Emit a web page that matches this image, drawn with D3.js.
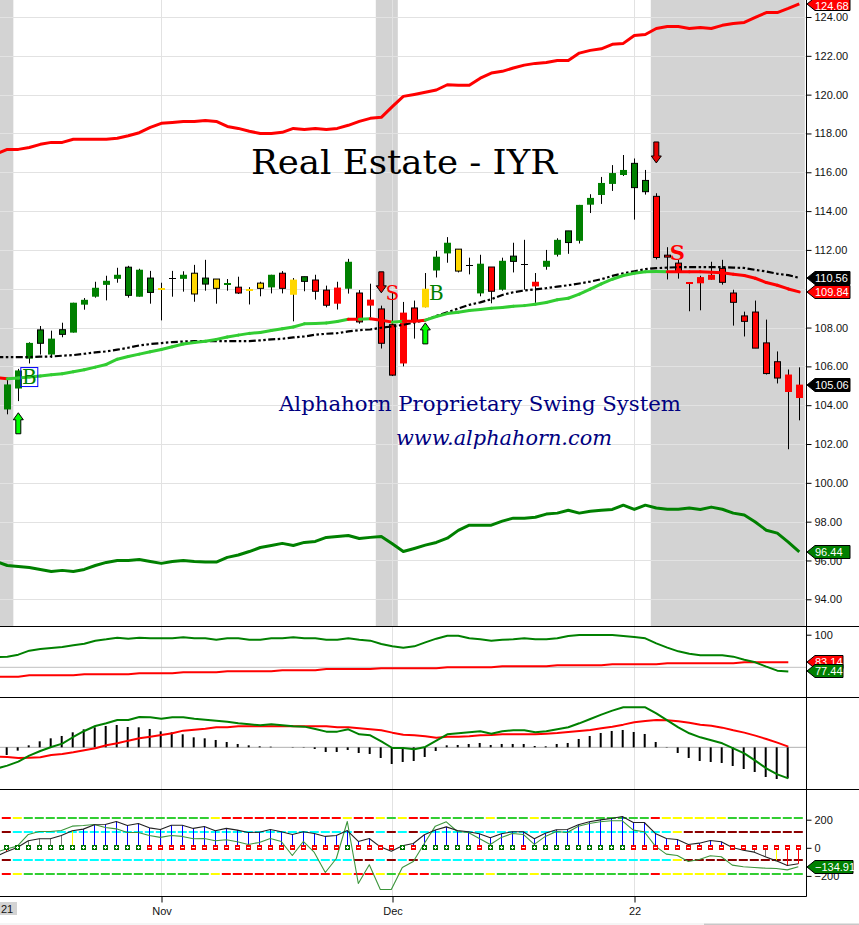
<!DOCTYPE html>
<html><head><meta charset="utf-8">
<script src="https://cdn.jsdelivr.net/npm/d3@7/dist/d3.min.js"></script>
<style>html,body{margin:0;padding:0;background:#fff}svg{display:block}text{font-family:"Liberation Sans",Arial,sans-serif}</style>
</head><body><svg id="c" width="859" height="925"></svg>
<script>
// ---- candles, index 0..72
const opens=[103.78,104.86,106.40,107.88,106.61,107.89,107.74,109.18,109.59,110.20,110.51,111.11,109.59,110.55,109.95,110.50,110.51,110.80,110.55,110.50,110.23,110.08,109.86,110.29,110.07,110.80,109.69,110.62,110.45,109.93,109.23,110.00,109.78,109.13,108.96,108.15,106.15,109.01,109.04,110.94,111.82,112.04,111.19,109.76,111.12,109.95,111.68,111.22,110.12,111.13,111.75,112.98,112.47,114.33,114.83,115.40,115.86,116.46,115.58,114.76,111.73,111.32,110.23,110.28,110.46,111.05,109.78,108.60,108.80,107.21,106.24,104.68,104.37];
const highs=[105.32,105.87,107.24,108.08,107.84,108.25,109.28,109.52,110.36,110.67,111.08,111.18,111.03,110.92,110.31,110.92,110.90,111.23,111.49,110.50,110.50,110.62,110.08,110.36,110.72,110.91,110.55,110.62,110.72,110.16,110.36,111.54,109.93,110.26,109.13,109.78,109.32,109.39,110.81,111.95,112.66,112.04,111.60,111.75,111.12,111.60,112.37,112.52,110.81,112.00,112.60,112.98,114.32,114.87,115.76,116.37,116.89,116.71,116.12,114.92,112.14,111.50,110.31,110.67,111.39,111.49,109.95,108.82,109.39,108.41,106.77,105.84,105.95];
const lows=[103.53,104.21,106.15,106.61,106.44,107.50,107.74,108.92,109.54,109.40,110.31,109.54,109.59,109.23,108.37,109.59,109.85,109.33,109.90,109.23,109.90,109.73,109.19,109.61,109.76,109.76,108.32,109.87,109.44,109.04,108.93,109.75,108.20,108.41,106.92,105.50,106.00,107.43,109.04,110.58,111.34,110.84,110.74,109.61,109.25,109.90,110.84,109.95,109.27,110.98,111.66,111.80,112.33,113.90,114.37,115.04,115.81,113.56,114.85,111.51,110.48,110.52,108.84,108.89,110.46,110.21,108.10,107.54,106.94,105.58,105.12,101.73,103.22];
const closes=[105.07,105.79,107.21,107.19,107.43,107.65,109.28,109.43,110.05,110.41,110.72,109.66,110.98,109.81,110.05,110.50,110.72,109.73,110.24,110.02,110.25,109.78,109.98,110.02,110.72,110.02,110.47,110.38,109.87,109.15,110.06,111.39,108.29,109.44,107.19,105.55,108.77,108.32,110.00,111.65,112.37,110.91,111.19,111.29,109.87,111.44,111.41,111.22,110.36,111.44,112.52,112.38,114.32,114.68,115.45,115.96,116.12,115.21,115.00,111.61,111.63,110.84,110.31,110.60,110.72,110.33,109.30,108.32,106.94,105.63,105.40,105.58,105.06];
const candleStates=["g","g","g","g","g","g","g","g","g","g","g","g","g","g","y","k","g","y","g","y","g","r","y","y","g","r","y","g","r","r","r","g","r","r","r","r","r","r","y","g","g","y","k","g","r","g","g","k","r","g","g","g","g","g","g","g","g","g","g","r","r","r","r","r","r","r","r","r","r","r","r","r","r"];
// ---- overlay lines, index -1..72
const upperBand=[116.94,117.18,117.18,117.28,117.44,117.54,117.54,117.70,117.70,117.70,117.70,117.75,117.88,118.04,118.31,118.52,118.57,118.62,118.62,118.67,118.62,118.36,118.26,118.11,118.00,118.00,118.06,118.26,118.21,118.26,118.21,118.26,118.42,118.62,118.78,118.83,119.38,119.91,120.01,120.12,120.24,120.51,120.48,120.48,120.85,121.11,121.20,121.37,121.52,121.61,121.66,121.76,121.76,122.14,122.28,122.36,122.59,122.64,123.05,123.10,123.41,123.51,123.51,123.41,123.46,123.41,123.57,123.67,123.72,123.98,124.23,124.23,124.44,124.68];
const lowerBand=[95.95,95.74,95.69,95.64,95.54,95.43,95.49,95.43,95.54,95.74,95.90,96.00,96.00,96.05,95.95,95.85,95.95,96.00,95.95,95.92,95.92,96.16,96.28,96.46,96.67,96.77,96.88,96.77,96.93,96.98,97.19,97.24,97.29,97.13,97.19,97.24,96.86,96.46,96.62,96.79,96.93,97.15,97.55,97.82,97.82,97.82,98.03,98.18,98.18,98.23,98.39,98.44,98.59,98.44,98.54,98.59,98.63,98.85,98.63,98.85,98.70,98.64,98.64,98.70,98.63,98.75,98.64,98.44,98.34,97.98,97.56,97.41,96.95,96.44];
const fastAverage=[105.43,105.36,105.40,105.45,105.50,105.57,105.62,105.72,105.83,105.96,106.10,106.37,106.51,106.63,106.75,106.87,107.01,107.15,107.23,107.30,107.39,107.51,107.61,107.70,107.75,107.85,107.94,108.03,108.19,108.21,108.24,108.31,108.43,108.43,108.45,108.38,108.28,108.33,108.33,108.38,108.57,108.72,108.79,108.88,108.93,109.00,109.03,109.10,109.13,109.20,109.29,109.43,109.51,109.72,109.98,110.25,110.49,110.68,110.80,110.87,110.89,110.87,110.87,110.87,110.87,110.85,110.82,110.75,110.68,110.54,110.32,110.18,109.99,109.84];
const slowAverage=[106.48,106.48,106.48,106.48,106.50,106.51,106.55,106.58,106.65,106.72,106.77,106.86,106.96,107.08,107.15,107.20,107.25,107.28,107.30,107.30,107.30,107.30,107.30,107.30,107.34,107.39,107.42,107.49,107.54,107.63,107.68,107.71,107.80,107.87,107.90,107.99,108.06,108.14,108.26,108.38,108.60,108.79,108.98,109.17,109.30,109.46,109.68,109.82,109.91,109.97,110.03,110.11,110.18,110.27,110.37,110.49,110.66,110.80,110.90,111.01,111.06,111.09,111.11,111.11,111.11,111.11,111.11,111.09,111.07,110.97,110.89,110.77,110.70,110.56];
const fastRedSpans=[[-1,0],[31,32],[33,35],[36,38],[60,72]];
const priceTicks=[94,96,98,100,102,104,106,108,110,112,114,116,118,120,122,124];
const priceTickLabels=[94,96,98,100,102,104,106,108,112,114,116,118,120,122,124];
// ---- signals
const upArrows=[[1,103.61],[38,108.24]];
const downArrows=[[34,109.79],[59,116.48]];
const signalLetters=[["B",2,105.45,true,"g"],["S",35,109.8,false,"r"],["B",39,109.8,false,"g"],["S",61,111.85,false,"R"]];
// ---- strength panel, index -1..71
const strengthGreen=[86.12,86.53,87.75,90.21,91.23,91.84,92.46,93.48,94.50,96.34,97.16,98.18,97.57,98.18,97.77,97.77,97.77,98.39,97.77,97.77,96.95,97.77,97.77,96.95,96.95,97.77,97.77,98.39,97.77,97.77,96.95,96.95,97.77,96.95,96.34,94.30,92.86,92.05,92.86,95.32,97.57,99.41,99.41,97.77,97.16,96.34,96.95,97.16,97.77,97.16,97.16,97.77,99.20,99.82,99.82,99.82,99.82,99.20,98.59,97.77,94.71,92.05,89.80,88.37,87.34,87.34,87.34,86.53,84.68,83.05,80.39,77.94,77.44];
const strengthRed=[74.26,74.26,74.26,75.07,75.07,75.07,75.07,75.07,75.69,75.69,75.69,75.69,75.69,76.30,76.30,76.30,76.30,76.91,76.91,76.91,76.91,77.53,77.53,77.53,77.53,77.53,78.14,78.14,78.14,78.14,78.96,78.96,78.96,78.96,78.96,79.37,79.37,79.37,79.37,79.37,79.37,79.98,79.98,79.98,79.98,79.98,80.59,80.59,80.59,80.59,80.59,81.21,81.21,81.21,81.21,81.21,81.82,81.82,81.82,81.82,81.82,82.44,82.44,82.44,82.44,82.44,82.44,82.44,83.05,83.05,83.05,83.05,83.14];
// ---- momentum panel
const momentumBars=[-0.23,-0.10,0.06,0.18,0.27,0.34,0.45,0.54,0.60,0.64,0.67,0.61,0.60,0.55,0.48,0.45,0.39,0.30,0.27,0.22,0.16,0.10,0.06,0.03,0.02,0,0.01,0.01,-0.05,-0.14,-0.14,-0.08,-0.17,-0.20,-0.32,-0.50,-0.44,-0.41,-0.29,-0.11,0.06,0.07,0.10,0.13,0.07,0.10,0.10,0.10,0.04,0.03,0.10,0.13,0.25,0.34,0.43,0.49,0.52,0.46,0.40,0.16,0.01,-0.17,-0.32,-0.41,-0.44,-0.47,-0.56,-0.65,-0.74,-0.89,-0.95,-0.93];
const momentumGreen=[-0.64,-0.55,-0.43,-0.25,-0.11,0.01,0.11,0.31,0.49,0.64,0.72,0.82,0.82,0.91,0.90,0.86,0.90,0.90,0.86,0.83,0.80,0.77,0.72,0.69,0.66,0.69,0.66,0.63,0.62,0.55,0.47,0.47,0.54,0.39,0.36,0.18,-0.02,-0.02,-0.06,0.01,0.20,0.39,0.42,0.45,0.48,0.41,0.48,0.51,0.51,0.45,0.48,0.54,0.60,0.72,0.85,0.98,1.10,1.20,1.20,1.20,1.02,0.81,0.60,0.42,0.30,0.21,0.12,-0.03,-0.18,-0.40,-0.63,-0.81,-0.93];
const momentumRed=[-0.28,-0.29,-0.32,-0.31,-0.30,-0.23,-0.20,-0.15,-0.09,-0.03,0.06,0.12,0.20,0.27,0.32,0.37,0.42,0.50,0.53,0.56,0.60,0.60,0.63,0.63,0.63,0.63,0.63,0.63,0.63,0.63,0.63,0.60,0.60,0.57,0.54,0.51,0.44,0.38,0.36,0.33,0.29,0.32,0.32,0.33,0.36,0.37,0.39,0.39,0.39,0.39,0.41,0.43,0.46,0.49,0.52,0.57,0.62,0.68,0.75,0.79,0.82,0.81,0.78,0.74,0.68,0.65,0.59,0.51,0.44,0.35,0.25,0.14,0.02];
// ---- oscillator panel
const oscBlack=[-64,-28,2,50,64,64,88,121,133,164,166,187,159,173,142,130,161,161,138,152,121,138,126,109,111,130,114,95,114,102,81,88,123,45,66,7,-24,14,31,93,126,149,123,114,100,71,100,114,114,64,104,128,130,164,185,199,209,223,180,180,102,66,59,24,33,52,43,2,-17,-31,-64,-93,-126,-114];
const oscGreen=[-33,-9,12,95,116,116,123,154,159,166,145,135,109,109,88,74,88,81,64,66,50,57,43,24,38,66,45,-55,45,-33,-176,-76,187,-254,-121,-297,-297,-140,-97,31,154,185,116,109,66,24,74,102,95,24,81,116,109,154,173,185,192,192,126,114,12,-45,-55,-97,-83,-57,-64,-123,-135,-140,-145,-147,-157,-134.91];
const stemStates=["r","n","k","k","k","k","y","b","b","b","b","b","b","b","b","b","b","b","b","b","b","b","b","b","b","b","b","b","b","b","b","b","b","b","n","n","n","b","b","b","b","b","b","b","b","b","b","b","b","b","b","b","b","b","b","b","b","b","b","b","b","b","b","b","b","b","b","k","k","k","y","r","r"];
const markerStates=["+","+","+","+","+","+","+","+","+","+","+","+","+","-","-","-","-","-","-","-","-","-","-","-","-","-","-","-","-","-","-","+","-","-","-","-","+","-","+","+","+","+","+","-","+","+","+","-","+","+","+","+","+","+","+","+","+","-","-","-","-","-","-","-","-","-","-","-","-","-","-","-","-"];
const outerLevels=[211,-187];
const innerLevels=[111,-88];
const outerStates=["r","y","g","g","g","g","g","g","g","g","g","g","g","g","g","g","g","g","g","y","r","r","r","r","r","r","r","r","r","r","r","y","r","r","y","g","y","r","r","g","g","g","g","g","y","g","g","g","y","g","g","g","g","g","g","g","g","g","g","r","y","y","y","y","y","y","g","g","g","g","g","g","g"];
const innerStates=["d","c","c","c","c","c","c","c","c","c","c","c","c","c","c","c","c","c","c","c","c","c","c","c","c","c","c","c","c","c","c","c","d","d","c","d","c","d","c","c","c","c","c","c","c","c","c","c","c","c","c","c","c","c","c","c","c","c","c","c","c","y","d","d","d","d","d","d","d","d","d","d","d"];
const strengthTicks=[100];
const oscTicks=[200,0,-200];
const dateTicks=[[14,"Nov"],[35,"Dec"],[57,"22"]];
const shadedBars=[[-1.2,0.55],[33.5,35.5],[58.5,72.5]];
const priceTags=[[124.68,"r"],[110.56,"k"],[109.84,"r"],[105.06,"k"],[96.44,"g"]];

const svg=d3.select("#c");
const axisX=806, P={main:626,s:697.3,m:789,o:896.3};
const x=d3.scaleLinear().domain([0,72]).range([7.3,799.3]);
const y=d3.scaleLinear().domain([94,124]).range([599.3,17]);
const yS=d3.scaleLinear().domain([80,100]).range([667.3,634.7]);
const yM=d3.scaleLinear().domain([-1.25,1.5]).range([789,697.3]);
const yO=d3.scaleLinear().domain([-200,200]).range([875.9,819.7]);
const col={r:"#ff0000",g:"#008000",y:"#ffd700",k:"#000000"};
const lineFrom=(ys)=>d3.line().x((d,k)=>x(k-1)).y(d=>ys(d));

// shaded sessions
svg.append("g").selectAll("rect").data(shadedBars).join("rect")
 .attr("x",d=>Math.max(0,x(d[0]))).attr("y",0)
 .attr("width",d=>x(d[1])-Math.max(0,x(d[0]))).attr("height",P.main).attr("fill","#d3d3d3");

// grid
const gridG=svg.append("g").attr("stroke","#e2e2e2").attr("stroke-width",1);
gridG.selectAll("line.h").data(priceTicks).join("line").attr("class","h")
 .attr("x1",0).attr("x2",axisX).attr("y1",d=>Math.round(y(d))+.5).attr("y2",d=>Math.round(y(d))+.5);
gridG.selectAll("line.v").data(dateTicks).join("line").attr("class","v")
 .attr("x1",d=>Math.floor(x(d[0]))+.5).attr("x2",d=>Math.floor(x(d[0]))+.5).attr("y1",0).attr("y2",P.o);

// candles
const cg=svg.append("g");
opens.forEach((o,i)=>{
  const c=closes[i], cx=Math.floor(x(i))+.5, st=candleStates[i], down=c<o;
  cg.append("line").attr("x1",cx).attr("x2",cx).attr("y1",y(highs[i])).attr("y2",y(lows[i])).attr("stroke","#000").attr("stroke-width",1);
  const t=y(Math.max(o,c)), b=y(Math.min(o,c));
  if(st==="k"||(b-t<3&&!down)){
    cg.append("rect").attr("x",cx-3.5).attr("width",7).attr("y",Math.round((t+b)/2)-1).attr("height",st==="k"?1:2).attr("fill",col[st]);
  } else if(down){
    cg.append("rect").attr("x",cx-3).attr("width",6).attr("y",t).attr("height",Math.max(b-t,1)).attr("fill",col[st]).attr("stroke","#000");
  } else {
    cg.append("rect").attr("x",cx-3.5).attr("width",7).attr("y",t).attr("height",b-t).attr("fill",col[st]);
  }
});

// overlays
const path=(g,data,gen,stroke,w,dash)=>g.append("path").attr("d",gen(data)).attr("fill","none").attr("stroke",stroke).attr("stroke-width",w).attr("stroke-linejoin","round").attr("stroke-dasharray",dash||null);
const ov=svg.append("g");
path(ov,upperBand,lineFrom(y),"#ff0000",3);
path(ov,lowerBand,lineFrom(y),"#008000",3);
path(ov,slowAverage,lineFrom(y),"#000",2.2,"7,2.5,2.5,2.5,2.5,2.5");
fastAverage.slice(1).forEach((v,k)=>{
  const inRed=fastRedSpans.some(s=>k-1>=s[0]&&k<=s[1]);
  ov.append("line").attr("x1",x(k-1)).attr("x2",x(k)).attr("y1",y(fastAverage[k])).attr("y2",y(v))
   .attr("stroke",inRed?"#ff0000":"#32cd32").attr("stroke-width",3).attr("stroke-linecap","round");
});

// title texts
svg.append("text").text("Real Estate - IYR").attr("x",251).attr("y",174).attr("textLength",306).attr("lengthAdjust","spacingAndGlyphs")
 .style("font-family","'DejaVu Serif',serif").style("font-size","33px").attr("fill","#000");
svg.append("text").text("Alphahorn Proprietary Swing System").attr("x",279).attr("y",411).attr("textLength",402).attr("lengthAdjust","spacingAndGlyphs")
 .style("font-family","'DejaVu Serif',serif").style("font-size","20.5px").attr("fill","#000080");
svg.append("text").text("www.alphahorn.com").attr("x",396).attr("y",445).attr("textLength",216).attr("lengthAdjust","spacingAndGlyphs")
 .style("font-family","'DejaVu Serif',serif").style("font-style","italic").style("font-size","21px").attr("fill","#000080");

// arrows
upArrows.forEach(d=>{
  const cx=x(d[0]), tip=y(d[1]);
  svg.append("path").attr("d",d3.line()([[0,0],[5,7],[2.5,7],[2.5,21],[-2.5,21],[-2.5,7],[-5,7]].map(p=>[cx+p[0],tip+p[1]]))+"Z").attr("fill","#00ff00").attr("stroke","#000");
});
downArrows.forEach(d=>{
  const cx=x(d[0]), tip=y(d[1]);
  svg.append("path").attr("d",d3.line()([[0,0],[5,-7],[2.5,-7],[2.5,-21],[-2.5,-21],[-2.5,-7],[-5,-7]].map(p=>[cx+p[0],tip+p[1]]))+"Z").attr("fill","#e80000").attr("stroke","#000");
});
signalLetters.forEach(([t,i,p,box,c])=>{
  const cx=x(i)+(c==="R"?-1:0), yy=y(p);
  svg.append("text").text(t).attr("x",cx).attr("y",yy+7).attr("text-anchor","middle")
   .style("font-family","'DejaVu Serif',serif").style("font-size",c==="R"?"21px":"20px").style("font-weight",c==="R"?"bold":"normal").attr("fill",c==="g"?"#008000":"#ff0000");
  if(box) svg.append("rect").attr("x",cx-8.5).attr("y",yy-9.5).attr("width",17).attr("height",19).attr("fill","none").attr("stroke","#0000ff").attr("stroke-width",1);
});

// panel lines
const strokeLine=(a,b,c)=>svg.append("line").attr("x1",a).attr("x2",b).attr("y1",c).attr("y2",c);
// strength
strokeLine(0,axisX,yS(80)).attr("stroke","#c0c0c0");
const ps=svg.append("g");
path(ps,strengthRed,lineFrom(yS),"#ff0000",2);
path(ps,strengthGreen,lineFrom(yS),"#008000",2);
// momentum
strokeLine(0,axisX,yM(0)).attr("stroke","#b0b0b0");
svg.append("g").selectAll("rect").data(momentumBars).join("rect")
 .attr("x",(d,i)=>x(i)-1.6).attr("width",2)
 .attr("y",d=>Math.min(yM(d),yM(0))).attr("height",d=>Math.abs(yM(d)-yM(0))).attr("fill","#000");
const pm=svg.append("g");
path(pm,momentumRed,lineFrom(yM),"#ff0000",2);
path(pm,momentumGreen,lineFrom(yM),"#008000",2);

// oscillator
const oxi=i=>x(i)-1;
const dashCol={r:"#ff0000",y:"#ffff00",g:"#32cd32",c:"#00ffff",d:"#8b0000"};
const dashRows=[[outerLevels,outerStates],[innerLevels,innerStates]];
const og=svg.append("g");
dashRows.forEach(([lv,st])=>lv.forEach(v=>{
  og.selectAll(null).data(st).join("line")
   .attr("x1",(d,i)=>oxi(i)-4.5).attr("x2",(d,i)=>oxi(i)+4.5)
   .attr("y1",Math.round(yO(v))).attr("y2",Math.round(yO(v)))
   .attr("stroke",d=>dashCol[d]).attr("stroke-width",2);
}));
const stemCol={b:"#0000ff",k:"#777777",y:"#ffff00",r:"#ff0000"};
og.selectAll(null).data(stemStates).join("line")
 .attr("x1",(d,i)=>Math.floor(oxi(i))+.5).attr("x2",(d,i)=>Math.floor(oxi(i))+.5)
 .attr("y1",yO(0)).attr("y2",(d,i)=>yO(oscBlack[i+1]))
 .attr("stroke",d=>d==="n"?"none":stemCol[d]).attr("stroke-width",1);
const oline=d3.line().x((d,k)=>x(k-1)-1).y(d=>yO(d));
path(og,oscGreen,oline,"#3c963c",1.1);
path(og,oscBlack,oline,"#222222",1.1);
markerStates.forEach((m,i)=>{
  const cx=Math.floor(oxi(i))+.5, cy=Math.floor(yO(0))+.5, plus=m==="+";
  og.append("rect").attr("x",cx-2).attr("y",cy-2).attr("width",4).attr("height",4).attr("fill",plus?"#008000":"#ff0000").attr("stroke",plus?"#007000":"#f00000").attr("stroke-width",1);
  og.append("line").attr("x1",cx-1.5).attr("x2",cx+1.5).attr("y1",cy).attr("y2",cy).attr("stroke","#fff");
  if(plus) og.append("line").attr("x1",cx).attr("x2",cx).attr("y1",cy-1.5).attr("y2",cy+1.5).attr("stroke","#fff");
});

// panel frames
[P.main,P.s,P.m].forEach(v=>strokeLine(0,859,Math.round(v)+.5).attr("stroke","#000"));
strokeLine(0,axisX,Math.round(P.o)+.5).attr("stroke","#000");
svg.append("line").attr("x1",axisX+.5).attr("x2",axisX+.5).attr("y1",0).attr("y2",P.o+.5).attr("stroke","#000");

// axes
const styleAxis=g=>{g.select(".domain").remove();g.selectAll("line").attr("stroke","#000");g.selectAll("text").style("font-size","11px").style("font-family","'Liberation Sans',Arial,sans-serif").attr("fill","#111");};
const yTick=(scale,vals,fmt)=>svg.append("g").attr("transform",`translate(${axisX+.5},0)`).call(d3.axisRight(scale).tickValues(vals).tickSize(5).tickPadding(3).tickFormat(fmt)).call(styleAxis);
yTick(y,priceTickLabels,d3.format(".2f"));
yTick(yS,strengthTicks,d3.format("d"));
yTick(yO,oscTicks,d3.format("d"));
const xAxis=d3.axisBottom(d3.scaleOrdinal().domain(dateTicks.map(d=>d[1])).range(dateTicks.map(d=>Math.floor(x(d[0]))+.5)));
svg.append("g").attr("transform",`translate(0,${Math.round(P.o)+.5})`).call(xAxis.tickSize(6).tickPadding(5)).call(styleAxis);
svg.append("rect").attr("x",0).attr("y",902).attr("width",17).attr("height",13).attr("fill","#d3d3d3");
svg.append("text").text("21").attr("x",1).attr("y",913).style("font-size","11px").attr("fill","#111");
svg.append("rect").attr("x",0).attr("y",923.5).attr("width",704).attr("height",1).attr("fill","#ececec");
svg.append("rect").attr("x",704).attr("y",923.5).attr("width",155).attr("height",1.5).attr("fill","#c8c8c8");

// value tags
const tag=(py,label,c,right)=>{
  const r=right||850, t=Math.round(py), h=6.5;
  svg.append("path").attr("d",`M807,${t}L815,${t-h}L${r},${t-h}L${r},${t+h}L815,${t+h}Z`).attr("fill",col[c]).attr("stroke","#000").attr("stroke-width",1);
  svg.append("text").text(label).attr("x",815).attr("y",Math.max(t+4,10)).style("font-size","11px").attr("fill","#fff");
};
priceTags.forEach(([v,c])=>tag(y(v),d3.format(".2f")(v),c));
tag(yS(strengthRed[72]),d3.format(".2f")(strengthRed[72]),"r",843);
tag(yS(strengthGreen[72]),d3.format(".2f")(strengthGreen[72]),"g",843);
tag(yO(oscGreen[73]),d3.format(".2f")(oscGreen[73]),"g",853);
</script></body></html>
